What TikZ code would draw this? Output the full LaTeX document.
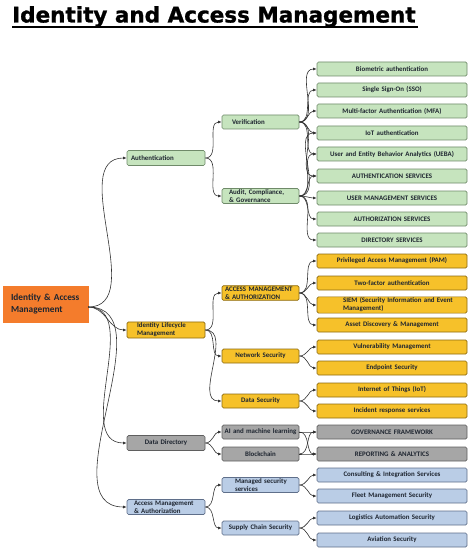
\documentclass[tikz,border=0pt]{standalone}
\usepackage{fontspec}
\setmainfont{Carlito}
\newfontfamily\titlefont{DejaVu Sans}[BoldFeatures={FakeBold=1.2}]
\usetikzlibrary{arrows.meta}
\definecolor{gfill}{HTML}{C6E4BE}
\definecolor{gdraw}{HTML}{6F8A69}
\definecolor{yfill}{HTML}{F6C12A}
\definecolor{ydraw}{HTML}{8C6A10}
\definecolor{kfill}{HTML}{A6A6A6}
\definecolor{kdraw}{HTML}{5F5F5F}
\definecolor{bfill}{HTML}{BACDE6}
\definecolor{bdraw}{HTML}{5F6F8A}
\definecolor{ofill}{HTML}{F47C2C}
\definecolor{txt}{HTML}{1E2530}
\definecolor{lc}{HTML}{333333}
\tikzset{
  bx/.style={draw, rounded corners=1.5pt, line width=0.7pt, inner sep=1pt,
    font=\bfseries\fontsize{6.9}{8}\selectfont, text=txt, minimum height=14pt, align=center},
  gb/.style={bx, fill=gfill, draw=gdraw},
  yb/.style={bx, fill=yfill, draw=ydraw},
  kb/.style={bx, fill=kfill, draw=kdraw},
  bb/.style={bx, fill=bfill, draw=bdraw},
  lvthree/.style={minimum width=150pt, text width=146pt},
  lvtwo/.style={minimum width=77pt, text width=75pt},
  lvone/.style={minimum width=78pt, text width=74pt, minimum height=15pt},
  lft/.style={align=left},
  con/.style={draw=lc, line width=0.6pt, -{Latex[length=3.5pt,width=3pt]}},
}
\begin{document}
\begin{tikzpicture}[x=1pt,y=-1pt]
\useasboundingbox (0,0) rectangle (474,556);
% title
\node[anchor=base west, inner sep=0pt, font=\titlefont\bfseries\fontsize{21.5}{24}\selectfont] (title) at (12,22.5) {Identity and Access Management};
\draw[line width=1.5pt] (12,26.8) -- (418,26.8);
% root
\node[draw=ofill, fill=ofill, minimum width=85pt, minimum height=36pt, text width=77pt, align=left,
  font=\bfseries\fontsize{9.3}{11.5}\selectfont, text=txt, inner sep=2pt] (root) at (45.5,304) {\hspace*{4pt}Identity \& Access\\\hspace*{4pt}Management};
% level 1
\node[gb, lvone, lft] (auth) at (166,158) {\hspace*{2pt}Authentication};
\node[yb, lvone, lft] (ilm) at (166,330) {\hspace*{8pt}Identity Lifecycle\\\hspace*{8pt}Management};
\node[kb, lvone] (dd) at (166,443) {Data Directory};
\node[bb, lvone, lft] (ama) at (166,507) {\hspace*{5pt}Access Management\\\hspace*{5pt}\& Authorization};
% level 2
\node[gb, lvtwo, lft] (ver) at (260.5,122) {\hspace*{9pt}Verification};
\node[gb, lvtwo, lft] (aud) at (260.5,196) {\hspace*{6pt}Audit, Compliance,\\\hspace*{6pt}\& Governance};
\node[yb, lvtwo, lft] (acc) at (260.5,293) {\hspace*{2pt}ACCESS MANAGEMENT\\\hspace*{2pt}\& AUTHORIZATION};
\node[yb, lvtwo] (net) at (260.5,356) {Network Security};
\node[yb, lvtwo] (dsec) at (260.5,401) {Data Security};
\node[kb, lvtwo] (ai) at (260.5,432) {AI and machine learning};
\node[kb, lvtwo] (blk) at (260.5,454) {Blockchain};
\node[bb, lvtwo, lft] (msec) at (260.5,485) {\hspace*{12pt}Managed security\\\hspace*{12pt}services};
\node[bb, lvtwo] (scs) at (260.5,528) {Supply Chain Security};
% level 3 green
\node[gb, lvthree] (g1) at (392,69) {Biometric authentication};
\node[gb, lvthree] (g2) at (392,90) {Single Sign-On (SSO)};
\node[gb, lvthree] (g3) at (392,111) {Multi-factor Authentication (MFA)};
\node[gb, lvthree] (g4) at (392,133) {IoT authentication};
\node[gb, lvthree] (g5) at (392,154) {User and Entity Behavior Analytics (UEBA)};
\node[gb, lvthree] (g6) at (392,176) {AUTHENTICATION SERVICES};
\node[gb, lvthree] (g7) at (392,198) {USER MANAGEMENT SERVICES};
\node[gb, lvthree] (g8) at (392,219) {AUTHORIZATION SERVICES};
\node[gb, lvthree] (g9) at (392,240) {DIRECTORY SERVICES};
% level 3 yellow
\node[yb, lvthree] (y1) at (392,261) {Privileged Access Management (PAM)};
\node[yb, lvthree] (y2) at (392,283) {Two-factor authentication};
\node[yb, lvthree, lft] (y3) at (392,305) {\hspace*{24pt}SIEM (Security Information and Event\\\hspace*{24pt}Management)};
\node[yb, lvthree] (y4) at (392,325) {Asset Discovery \& Management};
\node[yb, lvthree] (y5) at (392,347) {Vulnerability Management};
\node[yb, lvthree] (y6) at (392,368) {Endpoint Security};
\node[yb, lvthree] (y7) at (392,390) {Internet of Things (IoT)};
\node[yb, lvthree] (y8) at (392,411) {Incident response services};
% level 3 gray
\node[kb, lvthree] (k1) at (392,432) {GOVERNANCE FRAMEWORK};
\node[kb, lvthree] (k2) at (392,454) {REPORTING \& ANALYTICS};
% level 3 blue
\node[bb, lvthree] (b1) at (392,475) {Consulting \& Integration Services};
\node[bb, lvthree] (b2) at (392,496) {Fleet Management Security};
\node[bb, lvthree] (b3) at (392,518) {Logistics Automation Security};
\node[bb, lvthree] (b4) at (392,540) {Aviation Security};
% connectors root
\foreach \t in {auth,ilm,dd,ama}
  \draw[con] ([yshift=-3pt]root.east) to[out=0,in=180] (\t.west);
% level1 -> level2
\foreach \s/\t in {auth/ver,auth/aud,ilm/acc,ilm/net,ilm/dsec,dd/ai,dd/blk,ama/msec,ama/scs}
  \draw[con] (\s.east) to[out=0,in=180] (\t.west);
% level2 -> level3
\foreach \s/\t in {ver/g1,ver/g2,ver/g3,ver/g4,ver/g5,ver/g6,aud/g4,aud/g5,aud/g6,aud/g7,aud/g8,aud/g9,
  acc/y1,acc/y2,acc/y3,acc/y4,net/y5,net/y6,dsec/y7,dsec/y8,ai/k1,ai/k2,blk/k1,blk/k2,
  msec/b1,msec/b2,scs/b3,scs/b4}
  \draw[con] (\s.east) to[out=0,in=180] (\t.west);
\end{tikzpicture}
\end{document}
